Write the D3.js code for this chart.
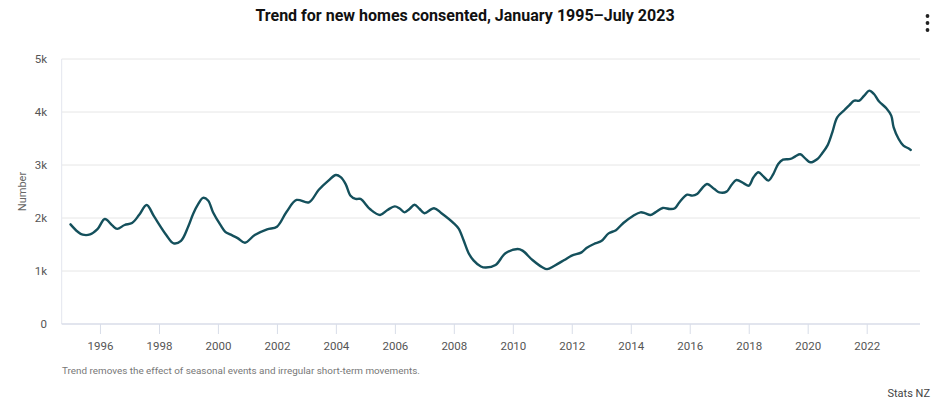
<!DOCTYPE html>
<html>
<head>
<meta charset="utf-8">
<script src="https://cdn.jsdelivr.net/npm/d3@7"></script>
<style>
  html, body { margin: 0; padding: 0; background: #fff; }
  svg { display: block; font-family: Roboto, "Open Sans", sans-serif; }
</style>
</head>
<body>
<svg id="chart" width="952" height="411"></svg>
<script>
const months = [
  "1995-01","1995-04","1995-06","1995-09","1995-12","1996-03","1996-06","1996-08","1996-11","1997-02",
  "1997-05","1997-08","1997-11","1998-04","1998-07","1998-10","1999-01","1999-03","1999-05","1999-07",
  "1999-09","1999-11","2000-02","2000-04","2000-06","2000-09","2000-12","2001-04","2001-09","2002-01",
  "2002-05","2002-09","2003-02","2003-06","2003-10","2004-01","2004-03","2004-05","2004-07","2004-09",
  "2004-11","2005-03","2005-07","2005-10","2006-01","2006-03","2006-05","2006-07","2006-09","2006-11",
  "2007-01","2007-05","2007-08","2008-01","2008-03","2008-05","2008-07","2008-09","2008-12","2009-02",
  "2009-06","2009-10","2010-03","2010-05","2010-09","2011-01","2011-03","2011-06","2011-10","2012-01",
  "2012-05","2012-07","2012-10","2013-01","2013-04","2013-07","2013-10","2014-02","2014-05","2014-07",
  "2014-09","2014-11","2015-02","2015-05","2015-07","2015-09","2015-12","2016-02","2016-04","2016-06",
  "2016-08","2016-11","2017-01","2017-04","2017-06","2017-08","2017-11","2018-01","2018-03","2018-05",
  "2018-07","2018-09","2018-11","2019-01","2019-03","2019-06","2019-08","2019-10","2019-12","2020-02",
  "2020-05","2020-07","2020-09","2020-11","2021-01","2021-04","2021-06","2021-08","2021-10","2021-12",
  "2022-02","2022-04","2022-06","2022-09","2022-11","2022-12","2023-02","2023-04","2023-06","2023-07"
];
const homesConsented = [
  1880,1740,1685,1690,1790,1980,1860,1795,1868,1905,
  2060,2245,2030,1680,1522,1570,1850,2080,2260,2380,
  2330,2110,1870,1740,1690,1620,1534,1679,1786,1836,
  2119,2340,2296,2528,2704,2811,2770,2640,2420,2360,
  2360,2164,2057,2151,2220,2180,2107,2170,2250,2175,
  2090,2185,2090,1900,1800,1580,1340,1200,1085,1065,
  1113,1333,1415,1384,1207,1070,1035,1100,1208,1289,
  1352,1434,1510,1565,1710,1770,1906,2044,2107,2088,
  2057,2107,2189,2170,2183,2308,2440,2422,2453,2560,
  2642,2547,2485,2497,2623,2717,2654,2610,2768,2862,
  2786,2705,2830,3019,3101,3114,3164,3202,3126,3051,
  3114,3227,3365,3617,3900,4038,4132,4214,4214,4309,
  4403,4340,4202,4070,3931,3711,3491,3365,3315,3285
];
const yTicks = [0, 1000, 2000, 3000, 4000, 5000];
const yTickLabels = ["0", "1k", "2k", "3k", "4k", "5k"];
const xTickYears = [1996,1998,2000,2002,2004,2006,2008,2010,2012,2014,2016,2018,2020,2022];

const titleText = "Trend for new homes consented, January 1995\u2013July 2023";
const yAxisTitle = "Number";
const footnote = "Trend removes the effect of seasonal events and irregular short-term movements.";
const credit = "Stats NZ";

const parse = d3.timeParse("%Y-%m");
const data = months.map((m, i) => ({ date: parse(m), value: homesConsented[i] }));

const svg = d3.select("#chart");
const plot = { left: 61.7, right: 920, top: 59, bottom: 324 };

const x = d3.scaleTime()
  .domain([new Date(1995, 0, 1), new Date(2022, 0, 1)])
  .range([70.5, 866.7]);
const y = d3.scaleLinear().domain([0, 5000]).range([plot.bottom, plot.top]);

// Title
svg.append("text")
  .attr("x", 465).attr("y", 21)
  .attr("text-anchor", "middle")
  .attr("font-size", 16).attr("font-weight", 700)
  .attr("fill", "#111")
  .text(titleText);

// menu dots
svg.append("g").selectAll("circle").data([0, 1, 2]).join("circle")
  .attr("cx", 927.5).attr("cy", d => 16 + d * 7).attr("r", 1.9).attr("fill", "#222");

// gridlines
svg.append("g").selectAll("line").data(yTicks.filter(v => v > 0)).join("line")
  .attr("x1", plot.left).attr("x2", plot.right)
  .attr("y1", d => y(d)).attr("y2", d => y(d))
  .attr("stroke", "#e6e6e6").attr("stroke-width", 1);

// y axis line
svg.append("line")
  .attr("x1", plot.left).attr("x2", plot.left)
  .attr("y1", plot.top).attr("y2", plot.bottom)
  .attr("stroke", "#e3e6ee").attr("stroke-width", 1);

// y labels
svg.append("g").selectAll("text").data(yTicks).join("text")
  .attr("x", 47).attr("y", d => y(d) + 4)
  .attr("text-anchor", "end")
  .attr("font-size", 11.5).attr("fill", "#555")
  .text((d, i) => yTickLabels[i]);

svg.append("text")
  .attr("transform", `translate(26, ${(plot.top + plot.bottom) / 2}) rotate(-90)`)
  .attr("text-anchor", "middle")
  .attr("font-size", 11).attr("fill", "#666")
  .text(yAxisTitle);

// x axis
const xAxis = d3.axisBottom(x)
  .tickValues(xTickYears.map(yv => new Date(yv, 0, 1)))
  .tickFormat(d3.timeFormat("%Y"))
  .tickSize(10).tickPadding(8);
const gx = svg.append("g").attr("transform", `translate(0, ${plot.bottom})`).call(xAxis);
gx.select(".domain").remove();
gx.selectAll(".tick line").attr("stroke", "#d8dde8");
gx.selectAll(".tick text").attr("font-size", 11.5).attr("fill", "#555")
  .attr("font-family", "Roboto, sans-serif");
svg.append("line")
  .attr("x1", plot.left).attr("x2", plot.right)
  .attr("y1", plot.bottom).attr("y2", plot.bottom)
  .attr("stroke", "#d8dde8").attr("stroke-width", 1.5);

// line
const line = d3.line()
  .x(d => x(d.date)).y(d => y(d.value))
  .curve(d3.curveCatmullRom.alpha(0.5));
svg.append("path").datum(data)
  .attr("d", line)
  .attr("fill", "none")
  .attr("stroke", "#14505c")
  .attr("stroke-width", 2.4)
  .attr("stroke-linejoin", "round")
  .attr("stroke-linecap", "round");

// footnote & credit
svg.append("text")
  .attr("x", 62).attr("y", 374)
  .attr("font-size", 9.9).attr("fill", "#777")
  .text(footnote);
svg.append("text")
  .attr("x", 930).attr("y", 397)
  .attr("text-anchor", "end")
  .attr("font-size", 11).attr("fill", "#444")
  .text(credit);
</script>
</body>
</html>
